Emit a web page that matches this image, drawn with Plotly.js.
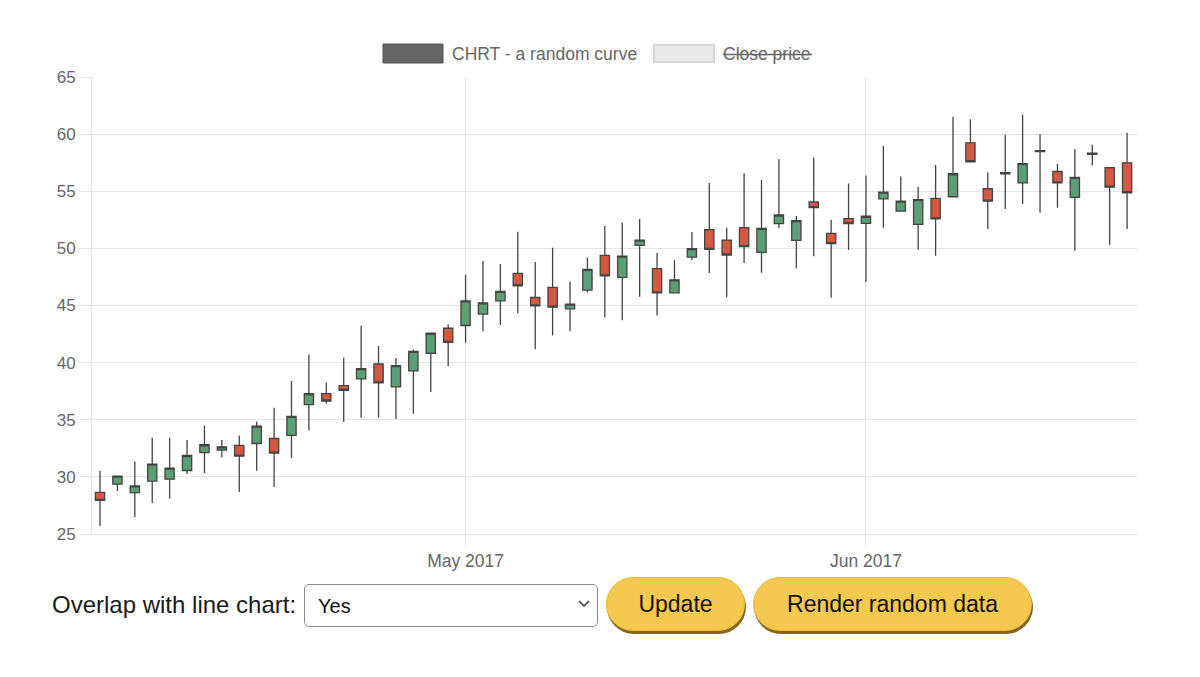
<!DOCTYPE html>
<html>
<head>
<meta charset="utf-8">
<script src="https://cdn.plot.ly/plotly-3.0.1.min.js"></script>
<style>
  html, body { margin:0; padding:0; background:#fff; width:1200px; height:677px; overflow:hidden;
    font-family: "Liberation Sans", Arial, Helvetica, sans-serif; }
  #chart { position:absolute; left:0; top:0; width:1200px; height:575px; }
  #ctrl-label { position:absolute; left:52px; top:590px; font-size:24px; color:#1a1a1a; line-height:30px; }
  #sel-wrap { position:absolute; left:304px; top:584px; width:294px; height:43px; }
  #sel { width:294px; height:43px; box-sizing:border-box; border:1px solid #8a8a8a; border-radius:5px;
    background:#fff; font-family:inherit; font-size:20px; color:#111; padding-left:13px;
    -webkit-appearance:none; appearance:none; }
  #chev { position:absolute; right:8px; top:16px; pointer-events:none; }
  .btn { position:absolute; top:577px; height:54px; box-sizing:border-box; background:#f5c94f;
    border:1px solid #e6b83d; border-radius:28px; font-family:inherit; font-size:23px; color:#111;
    box-shadow: 1px 3px 0 #86661b; padding:0; }
  #b1 { left:606px; width:139px; }
  #b2 { left:753px; width:279px; }
</style>
</head>
<body>
<div id="chart"></div>
<div id="ctrl-label">Overlap with line chart:</div>
<div id="sel-wrap">
  <select id="sel"><option>Yes</option><option>No</option></select>
  <svg id="chev" width="12" height="8" viewBox="0 0 12 8"><polyline points="1,1 6,6 11,1" fill="none" stroke="#333" stroke-width="1.5"/></svg>
</div>
<button class="btn" id="b1">Update</button>
<button class="btn" id="b2">Render random data</button>
<script>
// Business-day dates (categories)
const dates = [
  '2017-03-31',
  '2017-04-03','2017-04-04','2017-04-05','2017-04-06','2017-04-07',
  '2017-04-10','2017-04-11','2017-04-12','2017-04-13','2017-04-14',
  '2017-04-17','2017-04-18','2017-04-19','2017-04-20','2017-04-21',
  '2017-04-24','2017-04-25','2017-04-26','2017-04-27','2017-04-28',
  '2017-05-01','2017-05-02','2017-05-03','2017-05-04','2017-05-05',
  '2017-05-08','2017-05-09','2017-05-10','2017-05-11','2017-05-12',
  '2017-05-15','2017-05-16','2017-05-17','2017-05-18','2017-05-19',
  '2017-05-22','2017-05-23','2017-05-24','2017-05-25','2017-05-26',
  '2017-05-29','2017-05-30','2017-05-31',
  '2017-06-01','2017-06-02',
  '2017-06-05','2017-06-06','2017-06-07','2017-06-08','2017-06-09',
  '2017-06-12','2017-06-13','2017-06-14','2017-06-15','2017-06-16',
  '2017-06-19','2017-06-20','2017-06-21','2017-06-22'
];
const openVals = [
  28.65,29.36,28.63,29.62,29.80,30.56,32.13,32.34,32.75,32.92,
  33.36,33.63,36.32,37.28,37.98,38.57,39.88,37.87,39.27,40.82,
  43.01,43.25,44.24,45.41,47.81,45.70,46.58,44.71,46.35,49.39,
  47.46,50.26,48.22,46.11,49.24,51.64,50.73,51.81,49.65,52.16,
  50.70,54.06,51.32,52.60,52.19,54.34,53.27,52.10,54.37,54.52,
  59.24,55.22,56.52,55.74,58.48,56.73,54.46,58.24,57.06,57.49
];
const highVals = [
  30.53,30.12,31.35,33.42,33.42,33.22,34.50,33.22,33.63,34.85,
  36.05,38.39,40.70,38.27,40.44,43.22,41.46,40.41,41.14,42.63,
  43.33,47.69,48.89,48.63,51.46,48.80,50.06,47.11,49.21,51.96,
  52.25,52.57,49.59,48.95,51.43,55.73,51.81,56.58,55.99,57.81,
  52.84,57.95,52.51,55.67,56.37,58.95,56.30,55.39,57.29,61.52,
  61.31,56.65,59.94,61.69,60.00,57.41,58.69,59.07,57.10,60.12
];
const lowVals = [
  25.70,28.77,26.49,27.72,28.10,30.26,30.35,31.70,28.68,30.53,
  29.12,31.64,34.06,36.40,34.80,35.18,35.18,35.06,35.53,37.43,
  39.68,41.75,42.75,43.30,44.33,41.17,42.37,42.75,46.14,43.95,
  43.71,45.76,44.12,46.11,48.98,47.84,45.73,48.71,47.87,51.78,
  48.25,49.30,45.67,49.85,47.05,51.81,53.27,49.88,49.36,54.52,
  57.58,51.69,53.44,53.88,53.12,53.56,49.80,57.26,50.32,51.69
];
const closeVals = [
  27.95,30.06,29.21,31.11,30.76,31.87,32.81,32.63,31.81,34.44,
  32.08,35.29,37.28,36.64,37.57,39.47,38.22,39.74,40.99,42.57,
  41.78,45.41,45.23,46.23,46.73,44.97,44.85,45.12,48.16,47.60,
  49.33,50.73,46.11,47.25,49.97,49.91,49.42,50.15,51.75,52.92,
  52.43,53.57,50.41,52.16,52.81,54.93,54.14,54.26,52.59,56.53,
  57.58,54.14,56.62,57.41,58.56,55.74,56.21,58.34,55.36,54.87
];
const tickDates = ['2017-05-01','2017-06-01'];
const tickLabels = ['May 2017','Jun 2017'];
const seriesName = 'CHRT - a random curve';
const hiddenName = 'Close price';

const FONT = '"Liberation Sans", Arial, Helvetica, sans-serif';
const GRID = '#e4e4e4';
const L = 92, R = 1137, T = 77, B = 534;
const px = x => (x - L) / (R - L);
const py = y => (B - y) / (B - T);

const trace = {
  type: 'candlestick',
  name: seriesName,
  x: dates, open: openVals, high: highVals, low: lowVals, close: closeVals,
  increasing: { fillcolor: 'rgb(92,158,117)', line: { color: '#444', width: 1.3 } },
  decreasing: { fillcolor: 'rgb(212,88,66)', line: { color: '#444', width: 1.3 } },
  whiskerwidth: 0,
  hoverinfo: 'x+y'
};

const layout = {
  width: 1200, height: 575,
  margin: { l: L, r: 1200 - R, t: T, b: 575 - B, pad: 0 },
  paper_bgcolor: '#fff', plot_bgcolor: '#fff',
  showlegend: false,
  boxgap: 0.24,
  font: { family: FONT, size: 17, color: '#666' },
  xaxis: {
    type: 'category',
    range: [-0.46, dates.length - 1 + 0.57],
    rangeslider: { visible: false },
    tickmode: 'array', tickvals: tickDates, ticktext: tickLabels,
    showgrid: true, gridcolor: GRID, gridwidth: 1,
    ticks: 'outside', ticklen: 11, tickcolor: GRID,
    showline: true, linecolor: GRID, linewidth: 1,
    tickfont: { family: FONT, size: 17.5, color: '#666' },
    fixedrange: true
  },
  yaxis: {
    range: [25, 65], tick0: 25, dtick: 5,
    showgrid: true, gridcolor: GRID, gridwidth: 1,
    zeroline: false,
    ticks: 'outside', ticklen: 12, tickcolor: GRID,
    showline: true, linecolor: GRID, linewidth: 1,
    tickfont: { family: FONT, size: 17, color: '#666' },
    fixedrange: true
  },
  shapes: [
    { type: 'rect', xref: 'paper', yref: 'paper', x0: px(383), x1: px(443), y0: py(63), y1: py(44),
      fillcolor: '#666', line: { color: '#555', width: 1 } },
    { type: 'rect', xref: 'paper', yref: 'paper', x0: px(654), x1: px(714), y0: py(62), y1: py(45),
      fillcolor: '#e9e9e9', line: { color: '#d6d6d6', width: 2 } },
    { type: 'line', xref: 'paper', yref: 'paper', x0: px(723), x1: px(812), y0: py(54.5), y1: py(54.5),
      line: { color: '#666', width: 1.5 } }
  ],
  annotations: [
    { xref: 'paper', yref: 'paper', x: px(450), y: py(53.5), xanchor: 'left', yanchor: 'middle',
      text: seriesName, showarrow: false, font: { family: FONT, size: 17.5, color: '#666' } },
    { xref: 'paper', yref: 'paper', x: px(721), y: py(53.5), xanchor: 'left', yanchor: 'middle',
      text: hiddenName, showarrow: false, font: { family: FONT, size: 17.5, color: '#666' } }
  ]
};

Plotly.newPlot('chart', [trace], layout, { displayModeBar: false, staticPlot: true });
</script>
</body>
</html>
